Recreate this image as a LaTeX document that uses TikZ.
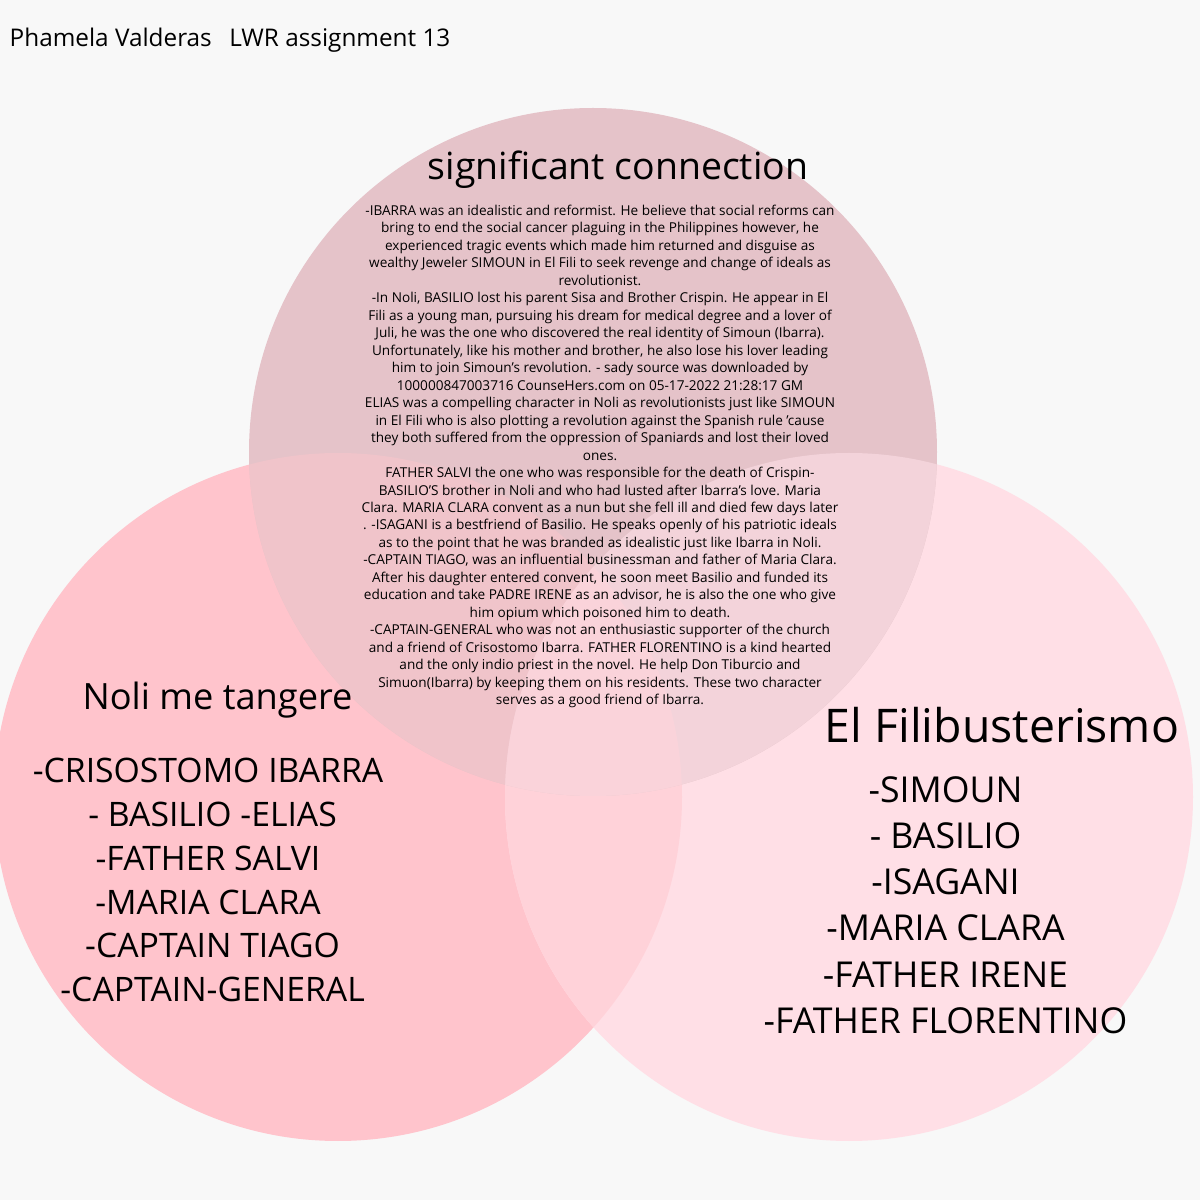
\documentclass[tikz,border=0pt]{standalone}
\usepackage{fontspec}
\setmainfont{Open Sans}
\definecolor{pagegrey}{HTML}{F8F8F8}
\definecolor{noliPink}{HTML}{FFC4CC}
\definecolor{filiPink}{HTML}{FFDFE6}
\definecolor{linkRose}{HTML}{E5C3C9}
\definecolor{noliFili}{HTML}{FFD2D9}
\definecolor{noliLink}{HTML}{F0C4CA}
\definecolor{filiLink}{HTML}{F3D3DA}
\definecolor{allThree}{HTML}{FAD3DA}
\begin{document}
\begin{tikzpicture}[
  every node/.style = {align=center, text=black, inner sep=0pt},
  venn/.style = {shape=circle, minimum size=6.88cm},
  names/.style = {font=\fontsize{9.6}{12.5}\selectfont},
  details/.style = {font=\fontsize{3.87}{4.97}\selectfont}
  ]
  \useasboundingbox (0,0) rectangle (12,12);
  \clip (0,0) rectangle (12,12);
  \fill[pagegrey] (0,0) rectangle (12,12);
  \node[venn, fill=noliPink] (noli) at (3.38,4.03) {};
  \node[venn, fill=filiPink] (fili) at (8.49,4.03) {};
  \node[venn, fill=linkRose] (link) at (5.93,7.48) {};
  % overlaps
  \begin{scope}
    \clip (noli.center) circle (3.44);
    \fill[noliFili] (fili.center) circle (3.44);
    \fill[noliLink] (link.center) circle (3.44);
  \end{scope}
  \begin{scope}
    \clip (fili.center) circle (3.44);
    \fill[filiLink] (link.center) circle (3.44);
    \clip (noli.center) circle (3.44);
    \fill[allThree] (link.center) circle (3.44);
  \end{scope}

  \node[anchor=west, font=\fontsize{6.92}{8}\selectfont] (author) at (0.09,11.60)
    {Phamela Valderas\hspace{0.72em}LWR assignment 13};
  \node[font=\fontsize{10.65}{12}\selectfont] (linkhead) at (6.18,10.30) {significant connection};
  \node[font=\fontsize{10.3}{12}\selectfont] (nolihead) at (2.175,4.995) {Noli me tangere};
  \node[font=\fontsize{13.2}{14}\selectfont] (filihead) at (10.02,4.75) {El Filibusterismo};
  \node[details] (linktext) at (6.00,7.435) {%
    -IBARRA was an idealistic and reformist. He believe that social reforms can\\
    bring to end the social cancer plaguing in the Philippines however, he\\
    experienced tragic events which made him returned and disguise as\\
    wealthy Jeweler SIMOUN in El Fili to seek revenge and change of ideals as\\
    revolutionist.\\
    -In Noli, BASILIO lost his parent Sisa and Brother Crispin. He appear in El\\
    Fili as a young man, pursuing his dream for medical degree and a lover of\\
    Juli, he was the one who discovered the real identity of Simoun (Ibarra).\\
    Unfortunately, like his mother and brother, he also lose his lover leading\\
    him to join Simoun's revolution. - sady source was downloaded by\\
    100000847003716 CounseHers.com on 05-17-2022 21:28:17 GM\\
    ELIAS was a compelling character in Noli as revolutionists just like SIMOUN\\
    in El Fili who is also plotting a revolution against the Spanish rule 'cause\\
    they both suffered from the oppression of Spaniards and lost their loved\\
    ones.\\
    FATHER SALVI the one who was responsible for the death of Crispin-\\
    BASILIO'S brother in Noli and who had lusted after Ibarra's love. Maria\\
    Clara. MARIA CLARA convent as a nun but she fell ill and died few days later\\
    . -ISAGANI is a bestfriend of Basilio. He speaks openly of his patriotic ideals\\
    as to the point that he was branded as idealistic just like Ibarra in Noli.\\
    -CAPTAIN TIAGO, was an influential businessman and father of Maria Clara.\\
    After his daughter entered convent, he soon meet Basilio and funded its\\
    education and take PADRE IRENE as an advisor, he is also the one who give\\
    him opium which poisoned him to death.\\
    -CAPTAIN-GENERAL who was not an enthusiastic supporter of the church\\
    and a friend of Crisostomo Ibarra. FATHER FLORENTINO is a kind hearted\\
    and the only indio priest in the novel. He help Don Tiburcio and\\
    Simuon(Ibarra) by keeping them on his residents. These two character\\
    serves as a good friend of Ibarra.};
  \node[names] (nolilist) at (2.08,3.20) {%
    -CRISOSTOMO IBARRA\\
    \hspace*{2.6pt}- BASILIO -ELIAS\\
    -FATHER SALVI\\
    -MARIA CLARA\\
    \hspace*{2.6pt}-CAPTAIN TIAGO\\
    \hspace*{2.6pt}-CAPTAIN-GENERAL};
  \node[names, font=\fontsize{10.15}{13.17}\selectfont] (fililist) at (9.455,2.95) {%
    -SIMOUN\\
    - BASILIO\\
    -ISAGANI\\
    -MARIA CLARA\\
    -FATHER IRENE\\
    -FATHER FLORENTINO};
\end{tikzpicture}
\end{document}
